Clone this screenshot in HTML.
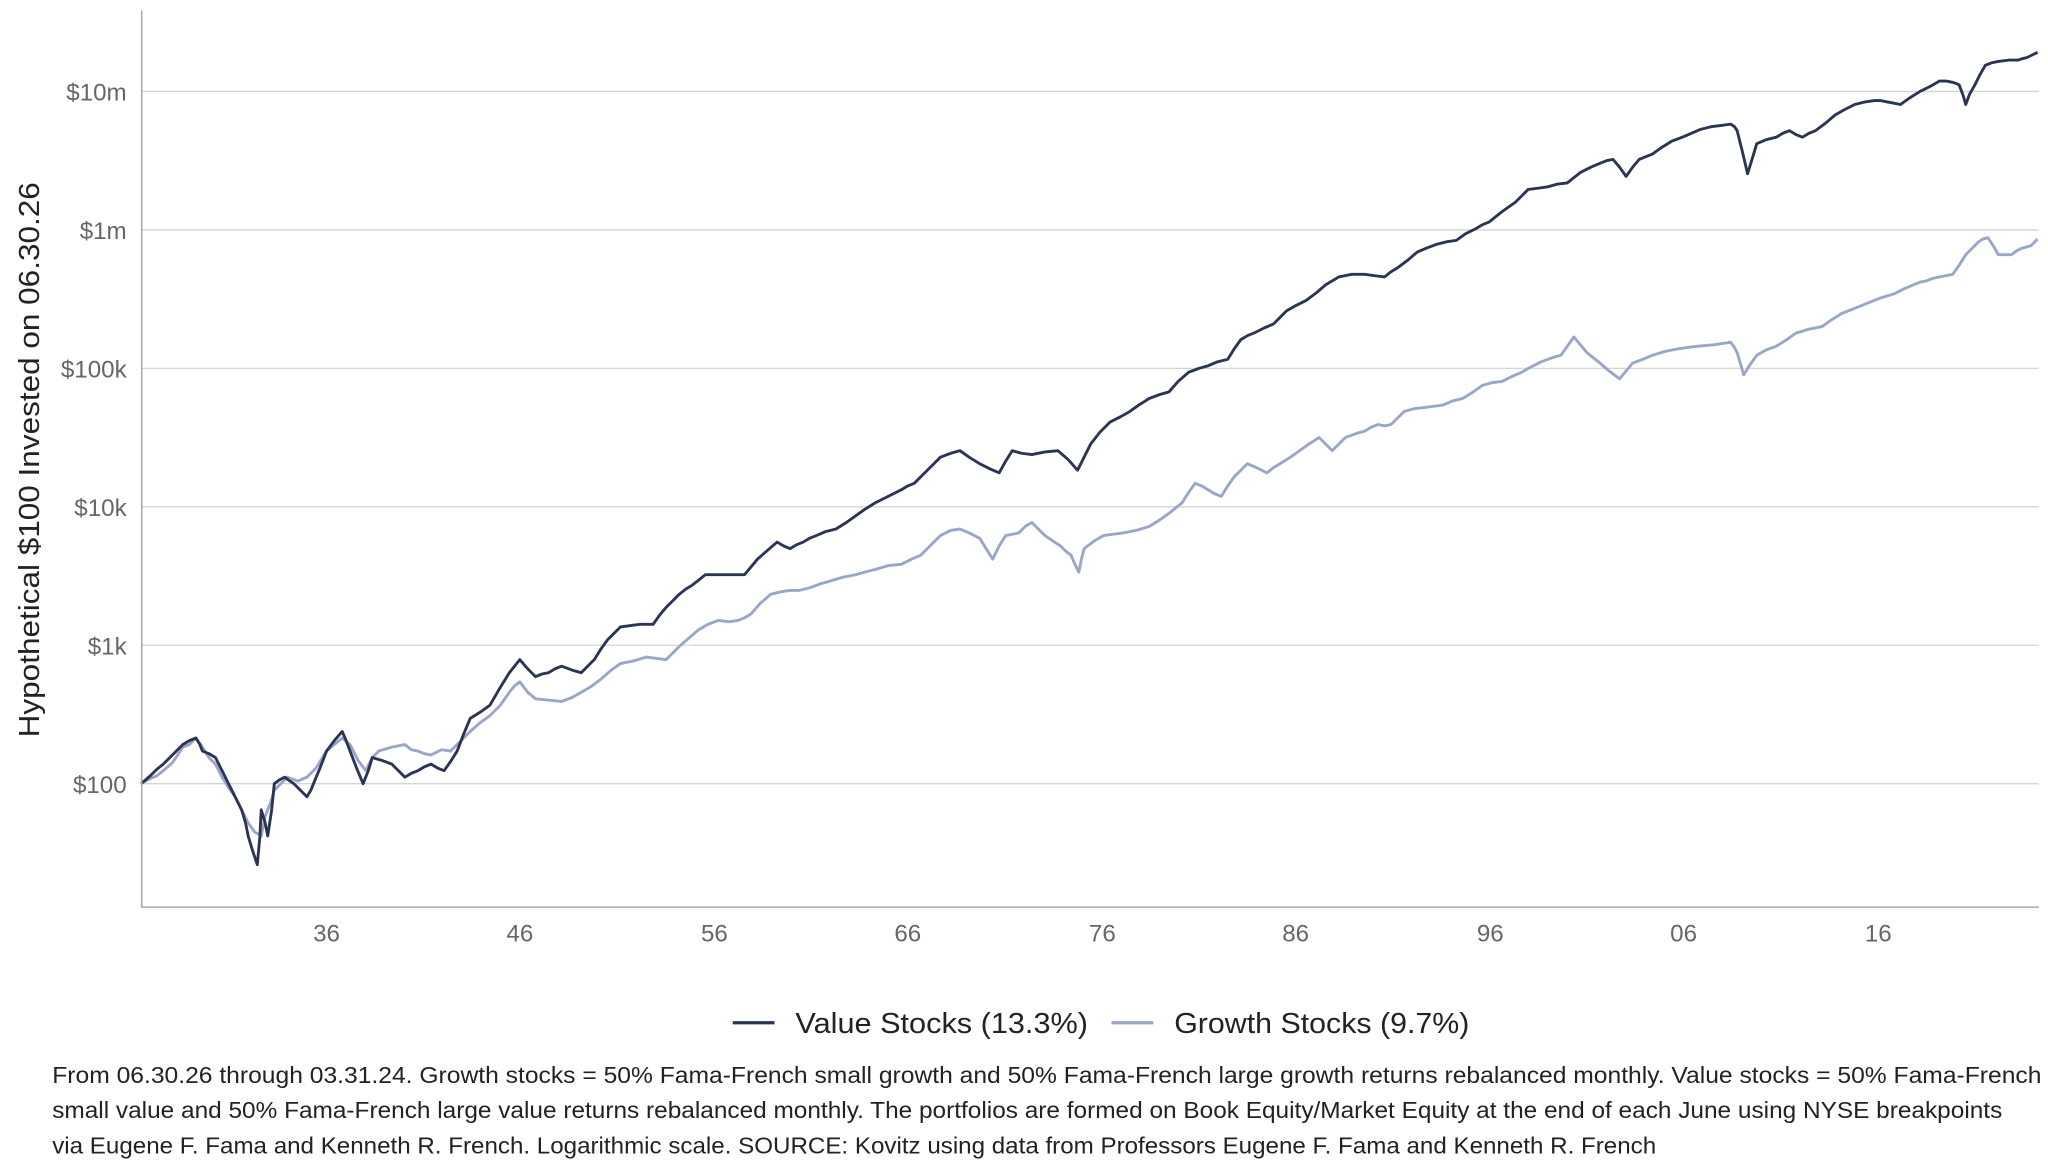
<!DOCTYPE html>
<html><head><meta charset="utf-8"><style>html,body{margin:0;padding:0;background:#fff}svg{display:block}</style></head>
<body>
<svg width="2048" height="1162" viewBox="0 0 1568 889.6" xmlns="http://www.w3.org/2000/svg" font-family="'Liberation Sans', sans-serif">
<rect width="1568" height="890" fill="#fff"/>
<g stroke="#d4d4d4" stroke-width="1">
<line x1="108" x2="1561" y1="70" y2="70"/>
<line x1="108" x2="1561" y1="176" y2="176"/>
<line x1="108" x2="1561" y1="282" y2="282"/>
<line x1="108" x2="1561" y1="388" y2="388"/>
<line x1="108" x2="1561" y1="494" y2="494"/>
<line x1="108" x2="1561" y1="600" y2="600"/>
</g>
<g fill="#666" font-size="18.5" text-anchor="end">
<text x="97" y="77">$10m</text>
<text x="97" y="183">$1m</text>
<text x="97" y="289">$100k</text>
<text x="97" y="395">$10k</text>
<text x="97" y="501">$1k</text>
<text x="97" y="607">$100</text>
</g>
<g fill="#666" font-size="18.5" text-anchor="middle">
<text x="250" y="721">36</text><text x="398" y="721">46</text><text x="547" y="721">56</text>
<text x="695" y="721">66</text><text x="844" y="721">76</text><text x="992" y="721">86</text>
<text x="1141" y="721">96</text><text x="1289" y="721">06</text><text x="1438" y="721">16</text>
</g>
<text transform="translate(30,352) rotate(-90)" text-anchor="middle" font-size="22" fill="#222" textLength="425" lengthAdjust="spacingAndGlyphs">Hypothetical $100 Invested on 06.30.26</text>
<polyline fill="none" stroke="#9aa6c8" stroke-width="2.2" stroke-linejoin="round" points="108,600 115,596 120,594 125,590 132,584 140,572 145,570 150,565 155,572 160,580 165,585 170,595 175,603 180,610 185,620 190,630 195,637 200,640 203,625 205,620 208,612 210,605 215,600 220,595 228,598 235,595 242,588 250,575 256,570 262,565 268,570 274,582 280,590 285,580 290,575 300,572 310,570 315,574 320,575 325,577 330,578 338,574 345,575 350,570 355,565 360,560 368,553 375,548 383,540 390,530 394,525 398,522 404,530 410,535 420,536 430,537 438,534 445,530 452,526 460,520 468,513 475,508 485,506 495,503 502,504 510,505 515,500 520,495 528,488 535,482 542,478 550,475 558,476 565,475 570,473 575,470 582,462 590,455 598,453 605,452 612,452 620,450 628,447 635,445 645,442 655,440 662,438 670,436 680,433 690,432 698,428 705,425 712,418 720,410 728,406 735,405 742,408 750,412 755,420 760,428 765,418 770,410 775,409 780,408 785,403 790,400 795,405 800,410 806,414 812,418 816,422 820,425 823,432 826,438 828,428 830,420 838,414 845,410 852,409 860,408 870,406 880,403 888,398 895,393 900,389 905,385 910,377 915,370 920,372 925,375 930,378 935,380 940,372 945,365 950,360 955,355 962,358 970,362 975,358 980,355 988,350 995,345 1002,340 1010,335 1015,340 1020,345 1025,340 1030,335 1038,332 1045,330 1050,327 1055,325 1060,326 1065,325 1070,320 1075,315 1082,313 1090,312 1098,311 1105,310 1112,307 1120,305 1128,300 1135,295 1142,293 1150,292 1158,288 1165,285 1172,281 1180,277 1188,274 1195,272 1200,265 1205,258 1210,264 1215,270 1220,274 1225,278 1232,284 1240,290 1245,284 1250,278 1258,275 1265,272 1275,269 1285,267 1292,266 1300,265 1312,264 1325,262 1328,266 1330,270 1333,280 1335,287 1340,279 1345,272 1352,268 1360,265 1368,260 1375,255 1385,252 1395,250 1402,245 1410,240 1420,236 1430,232 1440,228 1450,225 1458,221 1465,218 1470,216 1475,215 1480,213 1485,212 1490,211 1495,210 1500,203 1505,195 1510,190 1515,185 1518,183 1522,182 1526,188 1530,195 1535,195 1540,195 1544,192 1548,190 1552,189 1555,188 1558,185 1560,183"/>
<polyline fill="none" stroke="#2b3553" stroke-width="2.2" stroke-linejoin="round" points="108,600 115,594 120,589 125,585 132,578 140,570 145,567 150,565 153,570 155,575 160,577 165,580 170,590 175,600 180,610 185,620 188,630 190,640 193,650 197,662 199,640 200,620 203,630 205,640 208,620 210,600 214,597 218,595 222,598 225,600 230,605 235,610 238,605 240,600 245,588 250,575 256,567 262,560 265,567 268,575 273,588 278,600 282,590 285,580 292,582 300,585 305,590 310,595 315,592 320,590 325,587 330,585 335,588 340,590 345,583 350,575 355,562 360,550 368,545 375,540 382,528 390,515 394,510 398,505 404,512 410,518 415,516 420,515 425,512 430,510 438,513 445,515 450,510 455,505 460,497 465,490 470,485 475,480 482,479 490,478 495,478 500,478 505,471 510,465 515,460 520,455 525,451 530,448 535,444 540,440 548,440 555,440 562,440 570,440 575,434 580,428 588,421 595,415 600,418 605,420 610,417 615,415 620,412 625,410 632,407 640,405 648,400 655,395 662,390 670,385 680,380 690,375 695,372 700,370 705,365 710,360 715,355 720,350 728,347 735,345 742,350 750,355 758,359 765,362 770,353 775,345 782,347 790,348 800,346 810,345 818,352 825,360 830,350 835,340 842,331 850,323 858,319 865,315 872,310 880,305 888,302 895,300 902,292 910,285 918,282 925,280 932,277 940,275 945,267 950,260 955,257 960,255 968,251 975,248 980,243 985,238 992,234 1000,230 1008,224 1015,218 1020,215 1025,212 1030,211 1035,210 1040,210 1045,210 1052,211 1060,212 1065,208 1070,205 1078,199 1085,193 1092,190 1100,187 1108,185 1115,184 1122,179 1130,175 1135,172 1140,170 1150,162 1160,155 1165,150 1170,145 1178,144 1185,143 1192,141 1200,140 1205,136 1210,132 1218,128 1225,125 1230,123 1235,122 1240,128 1245,135 1250,128 1255,122 1260,120 1265,118 1272,113 1280,108 1288,105 1295,102 1302,99 1310,97 1318,96 1325,95 1328,97 1330,100 1334,116 1338,133 1342,120 1345,110 1352,107 1360,105 1365,102 1370,100 1375,103 1380,105 1385,102 1390,100 1398,94 1405,88 1412,84 1420,80 1428,78 1435,77 1440,77 1445,78 1450,79 1455,80 1462,75 1470,70 1478,66 1485,62 1490,62 1495,63 1498,64 1500,65 1503,73 1505,80 1508,72 1512,65 1516,57 1520,50 1525,48 1530,47 1538,46 1545,46 1548,45 1552,44 1556,42 1560,40"/>
<path d="M108.5 8 V694.5 H1561" fill="none" stroke="#aaa" stroke-width="1.2"/>
<line x1="561" x2="593" y1="783" y2="783" stroke="#2b3553" stroke-width="2.5"/>
<text x="609" y="791" font-size="22" fill="#222" textLength="224" lengthAdjust="spacingAndGlyphs">Value Stocks (13.3%)</text>
<line x1="851" x2="883" y1="783" y2="783" stroke="#9aa6c8" stroke-width="2.5"/>
<text x="899" y="791" font-size="22" fill="#222" textLength="226" lengthAdjust="spacingAndGlyphs">Growth Stocks (9.7%)</text>
<g font-size="17.5" fill="#222">
<text x="40" y="829" textLength="1523" lengthAdjust="spacingAndGlyphs">From 06.30.26 through 03.31.24. Growth stocks = 50% Fama-French small growth and 50% Fama-French large growth returns rebalanced monthly. Value stocks = 50% Fama-French</text>
<text x="40" y="856" textLength="1493" lengthAdjust="spacingAndGlyphs">small value and 50% Fama-French large value returns rebalanced monthly. The portfolios are formed on Book Equity/Market Equity at the end of each June using NYSE breakpoints</text>
<text x="40" y="883" textLength="1228" lengthAdjust="spacingAndGlyphs">via Eugene F. Fama and Kenneth R. French. Logarithmic scale. SOURCE: Kovitz using data from Professors Eugene F. Fama and Kenneth R. French</text>
</g>
</svg>
</body></html>
